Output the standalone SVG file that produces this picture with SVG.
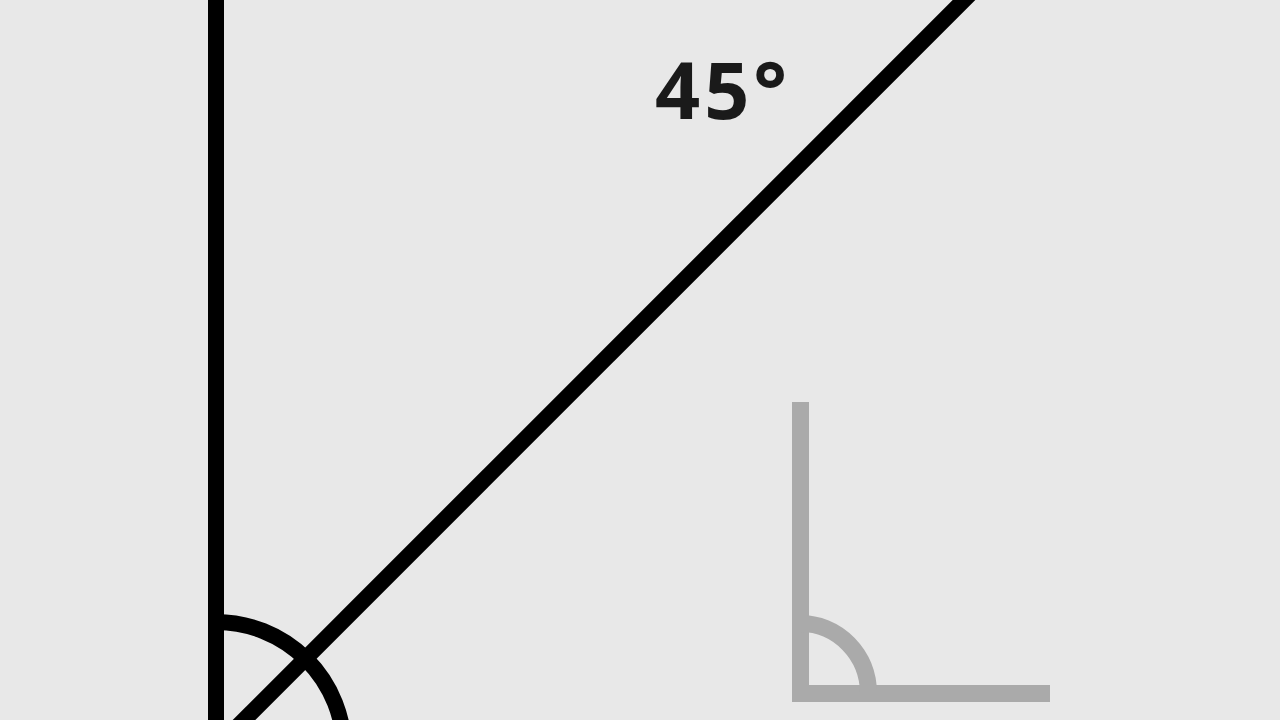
<svg xmlns="http://www.w3.org/2000/svg" width="1280" height="720" viewBox="0 0 1280 720">
<style>
.blk{stroke:#000;stroke-width:16;fill:none}
.gry{stroke:#aaaaaa;stroke-width:17;fill:none}
.lbl{font-family:"Open Sans","Noto Sans",sans-serif;font-weight:bold;font-size:79px;letter-spacing:4px;fill:#1a1a1a}
</style>
<rect width="1280" height="720" fill="#e8e8e8"/>
<g id="angle">
<line class="blk" x1="216" y1="-10" x2="216" y2="730"/>
<line class="blk" x1="974" y1="-10" x2="208" y2="756"/>
<path class="blk" d="M216 622 A128 128 0 0 1 344 750"/>
</g>
<g id="label"><text class="lbl" x="655" y="119">45°</text></g>
<g id="icon">
<path class="gry" d="M800.5 402 V693.5 H1050"/>
<path class="gry" d="M800.5 623.5 A68 70 0 0 1 868.5 693.5"/>
</g>
</svg>
